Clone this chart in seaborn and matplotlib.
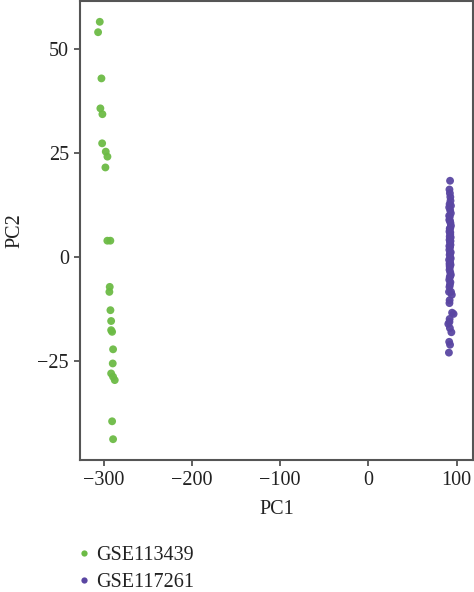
import numpy as np
import pandas as pd
import matplotlib
matplotlib.use("Agg")
import matplotlib.pyplot as plt
import seaborn as sns

groups = ["GSE113439", "GSE117261"]
colors = ["#6cbb45", "#5a46a2"]

g1_pc1 = [-304.6, -306.5, -302.7, -303.9, -301.6, -301.9, -297.8, -295.9, -298.2,
          -296.0, -292.6, -293.3, -293.7, -292.5, -291.7, -291.7, -290.6, -289.5,
          -289.9, -291.7, -289.5, -287.6, -290.6, -289.5]
g1_pc2 = [56.6, 54.1, 43.0, 35.8, 34.4, 27.4, 25.4, 24.2, 21.6,
          4.0, 4.0, -7.1, -8.3, -12.7, -15.3, -17.5, -17.9, -22.1,
          -25.5, -27.9, -28.7, -29.5, -39.4, -43.7]

g2_pc1 = [92.5, 91.8, 92.3, 92.8, 93.0, 92.0, 91.5, 92.6, 93.4, 92.2,
          91.6, 92.9, 93.5, 92.1, 91.8, 92.7, 93.2, 91.9, 92.4, 93.0,
          92.5, 91.7, 93.3, 92.0, 92.8, 91.4, 92.6, 93.1, 92.2, 91.9,
          92.7, 93.4, 92.1, 91.6, 92.9, 92.3, 91.8, 93.0, 92.5, 92.0,
          91.5, 92.8, 93.2, 92.4, 91.7, 92.6, 93.5, 92.1, 91.9, 92.7,
          91.3, 93.6, 94.5, 92.0, 91.8, 94.8, 96.5, 92.0, 90.5, 92.3,
          94.0, 91.5, 92.5, 91.2, 91.8]
g2_pc2 = [18.4, 16.3, 15.4, 14.5, 13.6, 12.8, 12.0, 11.3, 10.6, 9.8,
          9.0, 8.3, 7.6, 6.9, 6.2, 5.5, 4.8, 4.2, 3.6, 3.0,
          2.4, 1.8, 1.2, 0.6, 0.0, -0.6, -1.2, -1.8, -2.4, -3.0,
          -3.6, -4.2, -4.8, -5.4, -6.0, -6.6, -7.1, 3.9, 1.0, -2.0,
          10.0, 6.0, -0.3, 8.8, 2.7, -4.5, 12.4, 5.0, -1.5, 7.0,
          -8.3, -8.3, -9.0, -10.3, -11.0, -13.3, -13.6, -14.8, -16.0, -17.0,
          -18.0, -20.3, -21.0, -22.9, -15.5]

df = pd.DataFrame({
    "PC1": g1_pc1 + g2_pc1,
    "PC2": g1_pc2 + g2_pc2,
    "group": [groups[0]] * len(g1_pc1) + [groups[1]] * len(g2_pc1),
})

sns.set_theme(style="ticks")
plt.rcParams["font.family"] = ["Liberation Serif", "DejaVu Serif"]

fig = plt.figure(figsize=(4.74, 5.92), dpi=100)
ax = fig.add_axes([80 / 474, 132 / 592, 393 / 474, 459 / 592])

sns.scatterplot(data=df, x="PC1", y="PC2", hue="group", hue_order=groups,
                palette=colors, s=32, linewidth=0, alpha=0.95, ax=ax, legend=False)

ax.set_xlim(-327, 118.5)
ax.set_ylim(-48.7, 61.6)
ax.set_xticks([-300, -200, -100, 0, 100])
ax.set_yticks([-25, 0, 25, 50])
ax.set_xticklabels(["\u2212300", "\u2212200", "\u2212100", "0", "100"])
ax.set_yticklabels(["\u221225", "0", "25", "50"])
ax.tick_params(labelsize=14.5, length=4, width=1.2, color="#444444", colors="#222222", pad=4)
for sp in ax.spines.values():
    sp.set_color("#555555")
    sp.set_linewidth(1.5)
ax.set_xlabel("PC1", fontsize=14.5, color="#222222", labelpad=7)
ax.set_ylabel("PC2", fontsize=14.5, color="#222222", labelpad=9)

handles = [plt.Line2D([], [], marker="o", linestyle="", markersize=4.5,
                      markerfacecolor=c, markeredgewidth=0, label=g)
           for g, c in zip(groups, colors)]
fig.legend(handles=handles, loc="upper left", bbox_to_anchor=(67 / 474, 1 - 538 / 592),
           frameon=False, fontsize=14.5, handletextpad=0.15, handlelength=0.9,
           labelspacing=0.38, borderaxespad=0, labelcolor="#222222")

fig.savefig("out.png", dpi=100)
